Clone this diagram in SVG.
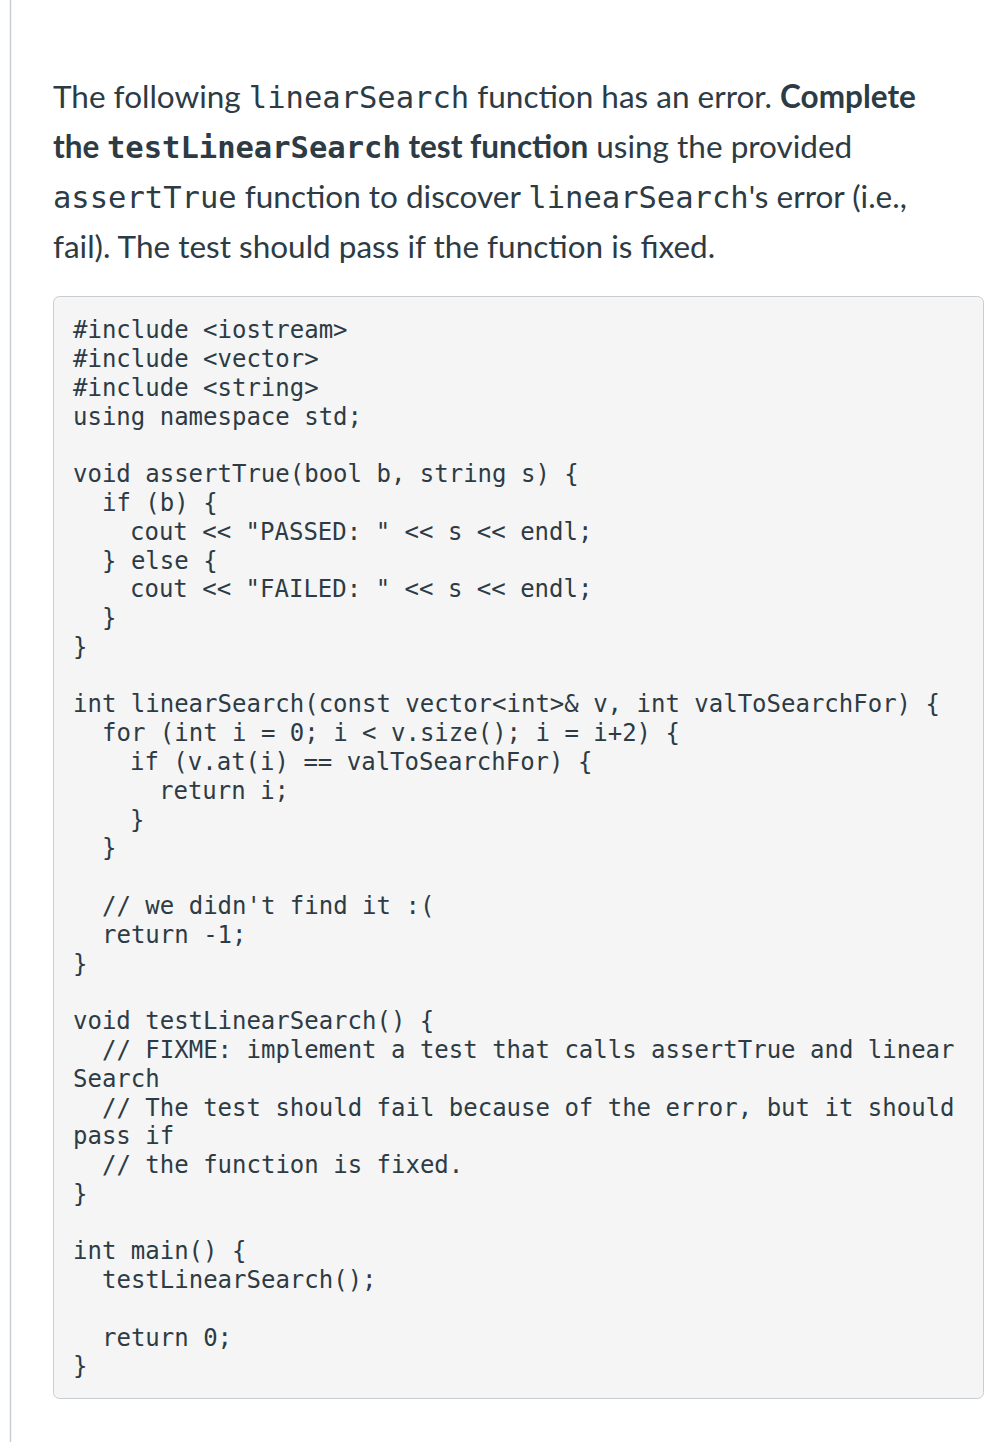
<svg xmlns="http://www.w3.org/2000/svg" width="1006" height="1442" viewBox="0 0 1006 1442">
<style>
.p{font-family:Lato,"Open Sans",sans-serif;font-size:31.5px;fill:#2d3b45}
.m{font-family:"DejaVu Sans Mono","Liberation Mono",monospace;font-size:30.5px}
.b{font-weight:bold}
.c{font-family:"DejaVu Sans Mono","Liberation Mono",monospace;font-size:24px;fill:#2d3b45}
</style>
<rect width="1006" height="1442" fill="#fff"/>
<line x1="10.5" y1="0" x2="10.5" y2="1442" stroke="#c7cdd1" stroke-width="1.5"/>
<text class="p" x="53" y="108">The following <tspan class="m">linearSearch</tspan> function has an error. <tspan class="b">Complete</tspan></text>
<text class="p" x="53" y="158"><tspan class="b">the </tspan><tspan class="m b">testLinearSearch</tspan><tspan class="b"> test function</tspan> using the provided</text>
<text class="p" x="53" y="208"><tspan class="m">assertTrue</tspan> function to discover <tspan class="m">linearSearch</tspan>'s error (i.e.,</text>
<text class="p" x="53" y="258">fail). The test should pass if the function is fixed.</text>
<rect x="53.5" y="296.5" width="930" height="1102" rx="6" fill="#f5f5f5" stroke="#c7cdd1"/>
<g class="c">
<text x="73" y="338">#include &lt;iostream&gt;</text>
<text x="73" y="367">#include &lt;vector&gt;</text>
<text x="73" y="396">#include &lt;string&gt;</text>
<text x="73" y="425">using namespace std;</text>
<text x="73" y="482">void assertTrue(bool b, string s) {</text>
<text x="102" y="511">if (b) {</text>
<text x="130" y="540">cout &lt;&lt; "PASSED: " &lt;&lt; s &lt;&lt; endl;</text>
<text x="102" y="569">} else {</text>
<text x="130" y="597">cout &lt;&lt; "FAILED: " &lt;&lt; s &lt;&lt; endl;</text>
<text x="102" y="626">}</text>
<text x="73" y="655">}</text>
<text x="73" y="712">int linearSearch(const vector&lt;int&gt;&amp; v, int valToSearchFor) {</text>
<text x="102" y="741">for (int i = 0; i &lt; v.size(); i = i+2) {</text>
<text x="130" y="770">if (v.at(i) == valToSearchFor) {</text>
<text x="159" y="799">return i;</text>
<text x="130" y="828">}</text>
<text x="102" y="856">}</text>
<text x="102" y="914">// we didn't find it :(</text>
<text x="102" y="943">return -1;</text>
<text x="73" y="972">}</text>
<text x="73" y="1029">void testLinearSearch() {</text>
<text x="102" y="1058">// FIXME: implement a test that calls assertTrue and linear</text>
<text x="73" y="1087">Search</text>
<text x="102" y="1116">// The test should fail because of the error, but it should</text>
<text x="73" y="1144">pass if</text>
<text x="102" y="1173">// the function is fixed.</text>
<text x="73" y="1202">}</text>
<text x="73" y="1259">int main() {</text>
<text x="102" y="1288">testLinearSearch();</text>
<text x="102" y="1346">return 0;</text>
<text x="73" y="1374">}</text>
</g>
</svg>
